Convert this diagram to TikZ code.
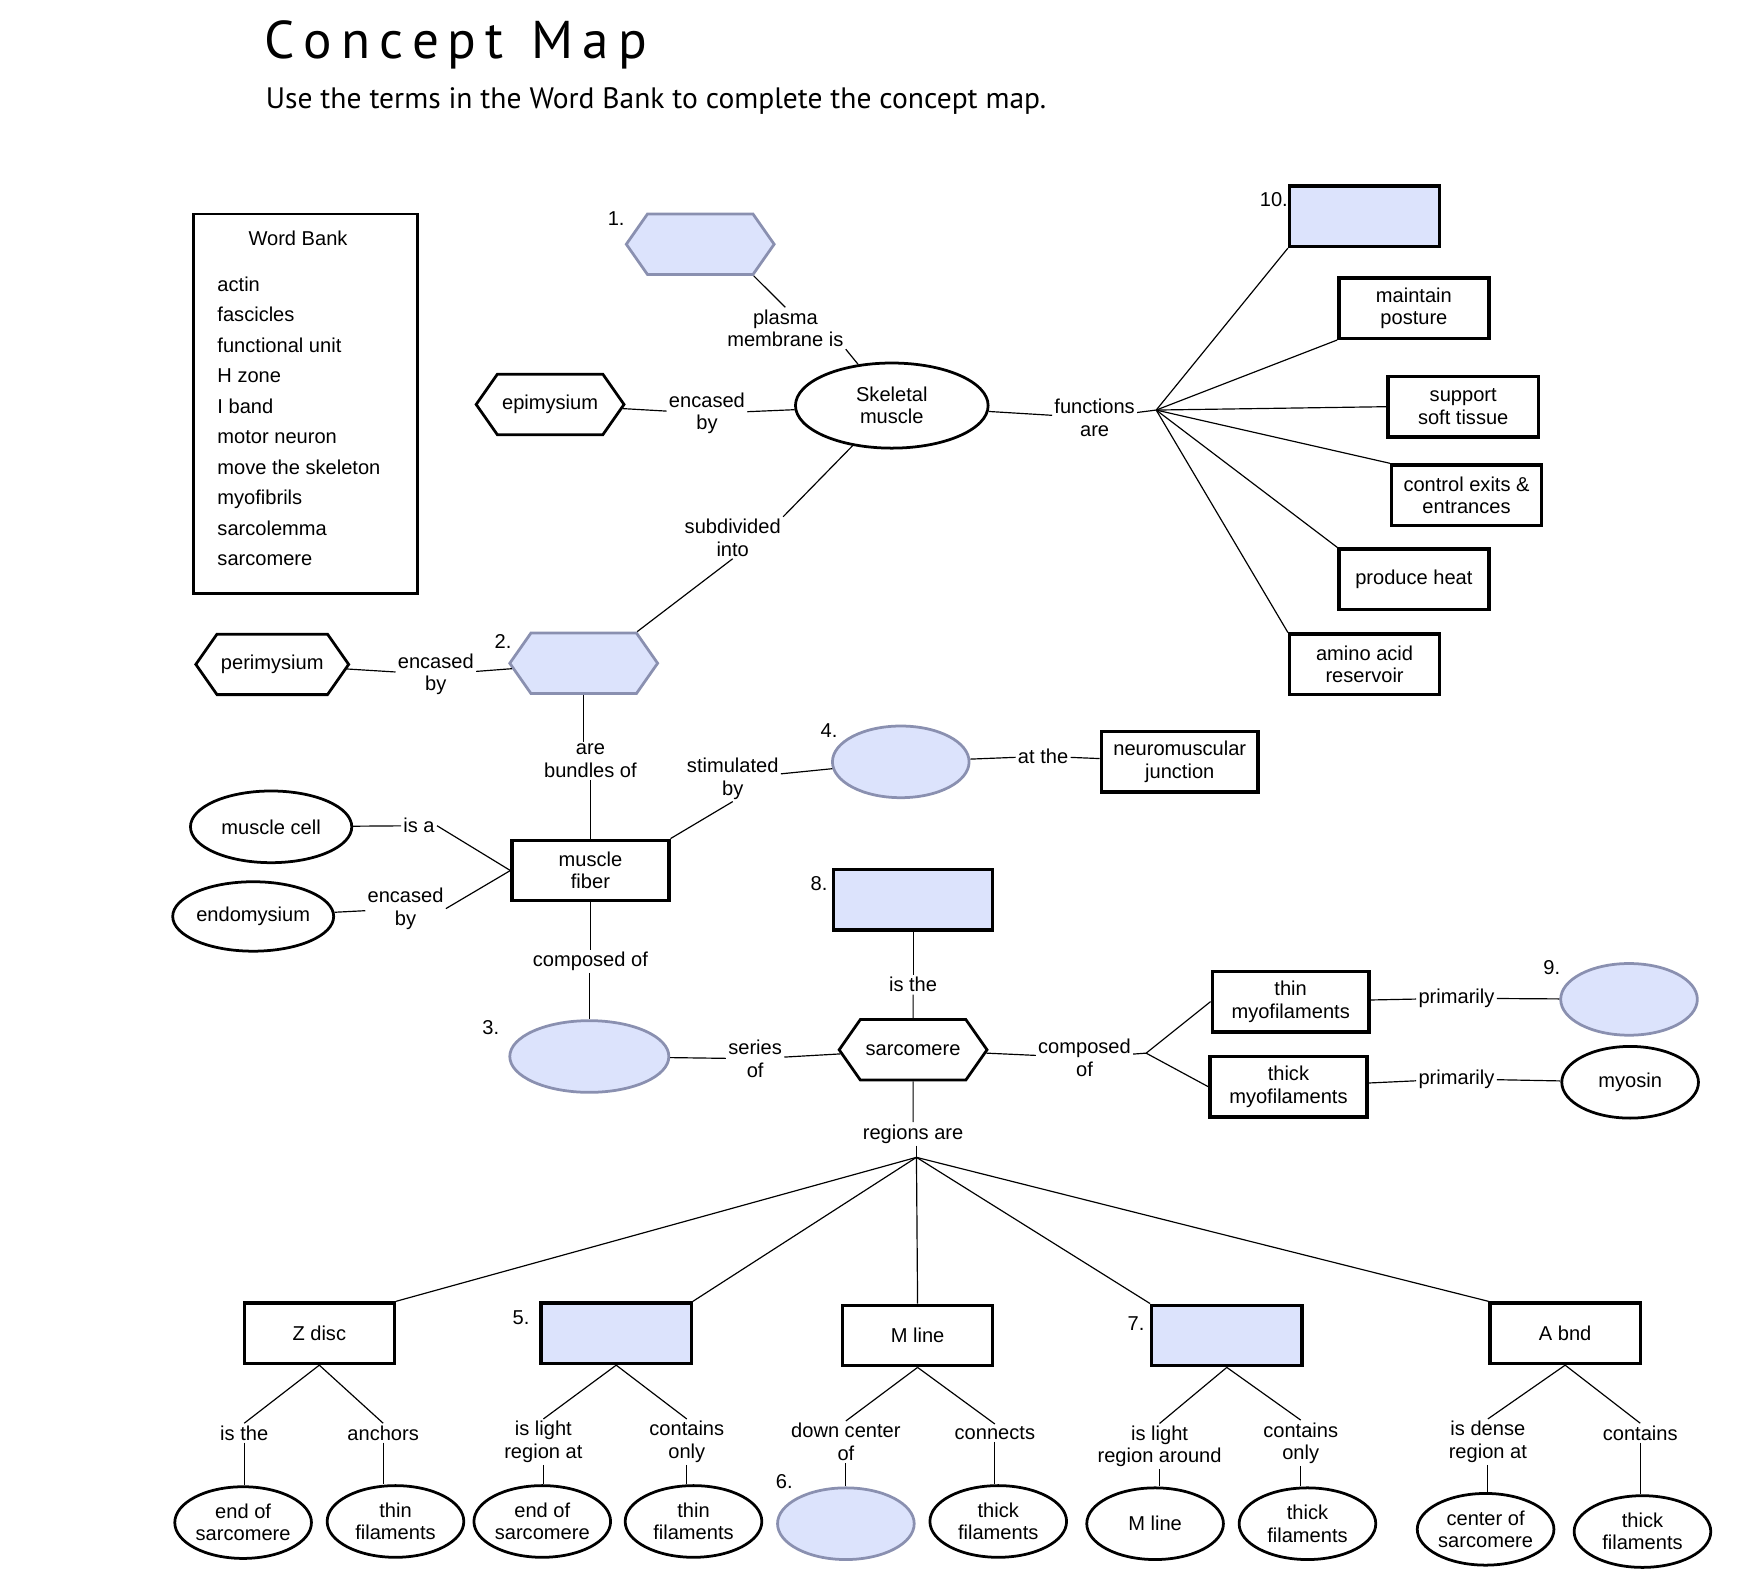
\documentclass[tikz,border=0pt]{standalone}
\usepackage{fontspec}
\setmainfont{Liberation Sans}
\newfontfamily\titlefont{PT Sans}
\usetikzlibrary{shapes.geometric, shapes.symbols, backgrounds}
\definecolor{hlfill}{HTML}{DCE3FC}
\definecolor{hldraw}{HTML}{8A90B0}
\begin{document}
\begin{tikzpicture}[x=0.02cm, y=-0.02cm,
  every node/.style={font=\fontsize{10.2}{11.4}\selectfont, align=center, inner sep=1pt},
  box/.style={draw, line width=1.7pt, minimum width=2.68cm, minimum height=1.08cm},
  oval/.style={draw, line width=1.4pt, ellipse, minimum width=2.44cm, minimum height=1.28cm, inner sep=0pt},
  hex/.style={draw, line width=1.4pt, signal, signal to=west and east, signal pointer angle=110, minimum width=2.64cm, minimum height=1.08cm, inner sep=2pt},
  hlbox/.style={box, fill=hlfill},
  hlhex/.style={hex, fill=hlfill, draw=hldraw},
  hloval/.style={oval, fill=hlfill, draw=hldraw},
  num/.style={font=\fontsize{10.2}{11.4}\selectfont},
  link/.style={line width=0.6pt}]
\useasboundingbox (0,0) rectangle (1562,1423);

% title
\node[anchor=base west, inner sep=0, font=\titlefont\fontsize{27}{30}\selectfont] (title) at (236,52) {C\,o\,n\,c\,e\,p\,t\ \ M\,a\,p};
\node[anchor=base west, inner sep=0, font=\titlefont\fontsize{15}{18}\selectfont] (sub) at (237,97) {Use the terms in the Word Bank to complete the concept map.};

% word bank
\node[draw, line width=1.4pt, minimum width=4cm, minimum height=6.78cm] (wb) at (273,360.5) {};
\node (wbt) at (266,213) {Word Bank};
\node[anchor=north west, align=left, font=\fontsize{10.2}{15.5}\selectfont] (wbl) at (192,245)
  {actin\\fascicles\\functional unit\\H zone\\I band\\motor neuron\\move the skeleton\\myofibrils\\sarcolemma\\sarcomere};

% top part
\node[hlhex] (n1) at (625,218) {};
\node[num] (l1) at (550,195) {1.};
\node (pm) at (701,293) {plasma\\membrane is};
\node[oval, minimum width=3.44cm, minimum height=1.52cm] (skm) at (796,362) {Skeletal\\muscle};
\node[hex] (epi) at (491,361) {epimysium};
\node (enc1) at (631,369) {encased\\by};
\node (fun) at (977,373) {functions\\are};
\coordinate (hub1) at (1032,366);
\node[hlbox] (n10) at (1218,193) {};
\node[num] (l10) at (1137,178) {10.};
\node[box] (mp) at (1262,275) {maintain\\posture};
\node[box] (sst) at (1306,363) {support\\soft tissue};
\node[box] (ce) at (1309,442) {control exits \&\\entrances};
\node[box] (ph) at (1262,517) {produce heat};
\node[box] (aa) at (1218,593) {amino acid\\reservoir};
\node (sub2) at (654,480) {subdivided\\into};

\node[hlhex] (n2) at (521,592) {};
\node[num] (l2) at (449,573) {2.};
\node[hex] (peri) at (243,593) {perimysium};
\node (enc2) at (389,602) {encased\\by};
\node (abo) at (527,679) {are\\bundles of};
\node[box, minimum width=2.8cm] (mf) at (527,777) {muscle\\fiber};
\node (stim) at (654,695) {stimulated\\by};
\node[hloval] (n4) at (804,680) {};
\node[num] (l4) at (740,652) {4.};
\node (att) at (931,675) {at the};
\node[box, minimum width=2.8cm] (nmj) at (1053,680) {neuromuscular\\junction};
\node[oval, minimum width=2.88cm] (mc) at (242,738) {muscle cell};
\node (isa) at (374,737) {is a};
\node[oval, minimum width=2.84cm, minimum height=1.24cm] (endo) at (226,818) {endomysium};
\node (enc3) at (362,811) {encased\\by};
\node (comp1) at (527,858) {composed of};
\node[hloval, minimum width=2.84cm] (n3) at (526,943) {};
\node[num] (l3) at (438,917) {3.};
\node (ser) at (674,945) {series\\of};
\node[hex] (sarc) at (815,937) {sarcomere};
\node[hlbox, minimum width=2.84cm] (n8) at (815,803) {};
\node[num] (l8) at (731,789) {8.};
\node (isthe) at (815,879) {is the};
\node (comp2) at (968,944) {composed\\of};
\coordinate (hub2) at (1023,940);
\node[box, minimum width=2.8cm] (thin) at (1152,894) {thin\\myofilaments};
\node[box, minimum width=2.8cm] (thick) at (1150,970) {thick\\myofilaments};
\node (pr1) at (1300,891) {primarily};
\node (pr2) at (1300,963) {primarily};
\node[hloval] (n9) at (1454,892) {};
\node[num] (l9) at (1385,864) {9.};
\node[oval] (myo) at (1455,966) {myosin};
\node (reg) at (815,1012) {regions are};
\coordinate (hub3) at (818,1033);

% bottom boxes
\node[box] (zd) at (285,1190) {Z disc};
\node[hlbox] (n5) at (550,1190) {};
\node[num] (l5) at (465,1176) {5.};
\node[box] (ml) at (819,1192) {M line};
\node[hlbox] (n7) at (1095,1192) {};
\node[num] (l7) at (1014,1181) {7.};
\node[box] (ab) at (1397,1190) {A bnd};

% bottom labels
\node (b1) at (218,1279) {is the};
\node (b2) at (342,1279) {anchors};
\node (b3) at (485,1287) {is light\\region at};
\node (b4) at (613,1287) {contains\\only};
\node (b5) at (755,1287) {down center\\of};
\node (b6) at (888,1279) {connects};
\node (b7) at (1035,1291) {is light\\region around};
\node (b8) at (1161,1288) {contains\\only};
\node (b9) at (1328,1287) {is dense\\region at};
\node (b10) at (1464,1279) {contains};

% bottom ovals
\node[oval] (e1) at (217,1359) {end of\\sarcomere};
\node[oval] (e2) at (353,1358) {thin\\filaments};
\node[oval] (e3) at (484,1358) {end of\\sarcomere};
\node[oval] (e4) at (619,1358) {thin\\filaments};
\node[hloval] (e5) at (755,1360) {};
\node[num] (l6) at (700,1322) {6.};
\node[oval] (e6) at (891,1358) {thick\\filaments};
\node[oval] (e7) at (1031,1360) {M line};
\node[oval] (e8) at (1167,1360) {thick\\filaments};
\node[oval] (e9) at (1326,1365) {center of\\sarcomere};
\node[oval] (e10) at (1466,1367) {thick\\filaments};

% highlight backgrounds
\begin{scope}[on background layer]
  \foreach \n in {n1,n2,n3,n4,n8,n9,n5,n7,e5,n10}
    \fill[hlfill] (\n.south west) rectangle (\n.north east);
\end{scope}

% connectors
\begin{scope}[link]
  \draw (n1.south east) -- (pm.north);
  \draw (pm.south east) -- (skm);
  \draw (epi) -- (enc1); \draw (enc1) -- (skm);
  \draw (skm) -- (fun); \draw (fun) -- (hub1);
  \foreach \t/\a in {n10/south west, mp/south west, sst/west, ce/north west, ph/north west, aa/north west}
    \draw (hub1) -- (\t.\a);
  \draw (skm) -- (sub2.north east);
  \draw (sub2.south) -- (n2.north east);
  \draw (peri) -- (enc2); \draw (enc2) -- (n2);
  \draw (n2.south) -- (abo.north -| n2.south);
  \draw (abo.south -| mf.north) -- (mf.north);
  \draw (mf.north east) -- (stim.south); \draw (stim) -- (n4);
  \draw (n4) -- (att); \draw (att) -- (nmj);
  \draw (mc) -- (isa); \draw (isa.east) -- (mf.west);
  \draw (endo) -- (enc3); \draw (enc3.east) -- (mf.west);
  \draw (mf.south) -- (comp1.north -| mf.south);
  \draw (comp1.south -| n3.north) -- (n3.north);
  \draw (n3) -- (ser); \draw (ser) -- (sarc);
  \draw (n8) -- (isthe); \draw (isthe) -- (sarc);
  \draw (sarc) -- (comp2); \draw (comp2) -- (hub2);
  \draw (hub2) -- (thin.west); \draw (hub2) -- (thick.west);
  \draw (thin) -- (pr1); \draw (pr1) -- (n9);
  \draw (thick) -- (pr2); \draw (pr2) -- (myo);
  \draw (sarc) -- (reg); \draw (reg.south -| hub3) -- (hub3);
  \draw (hub3) -- (zd.north east);
  \draw (hub3) -- (n5.north east);
  \draw (hub3) -- (ml.north);
  \draw (hub3) -- (n7.north west);
  \draw (hub3) -- (ab.north west);
  \foreach \bx/\la/\lb/\ea/\eb in {zd/b1/b2/e1/e2, n5/b3/b4/e3/e4, ml/b5/b6/e5/e6, n7/b7/b8/e7/e8, ab/b9/b10/e9/e10} {
    \draw (\bx.south) -- (\la.north);
    \draw (\bx.south) -- (\lb.north);
    \draw (\la.south) -- (\la.south |- \ea.north);
    \draw (\lb.south) -- (\lb.south |- \eb.north);
  }
\end{scope}
\end{tikzpicture}
\end{document}
